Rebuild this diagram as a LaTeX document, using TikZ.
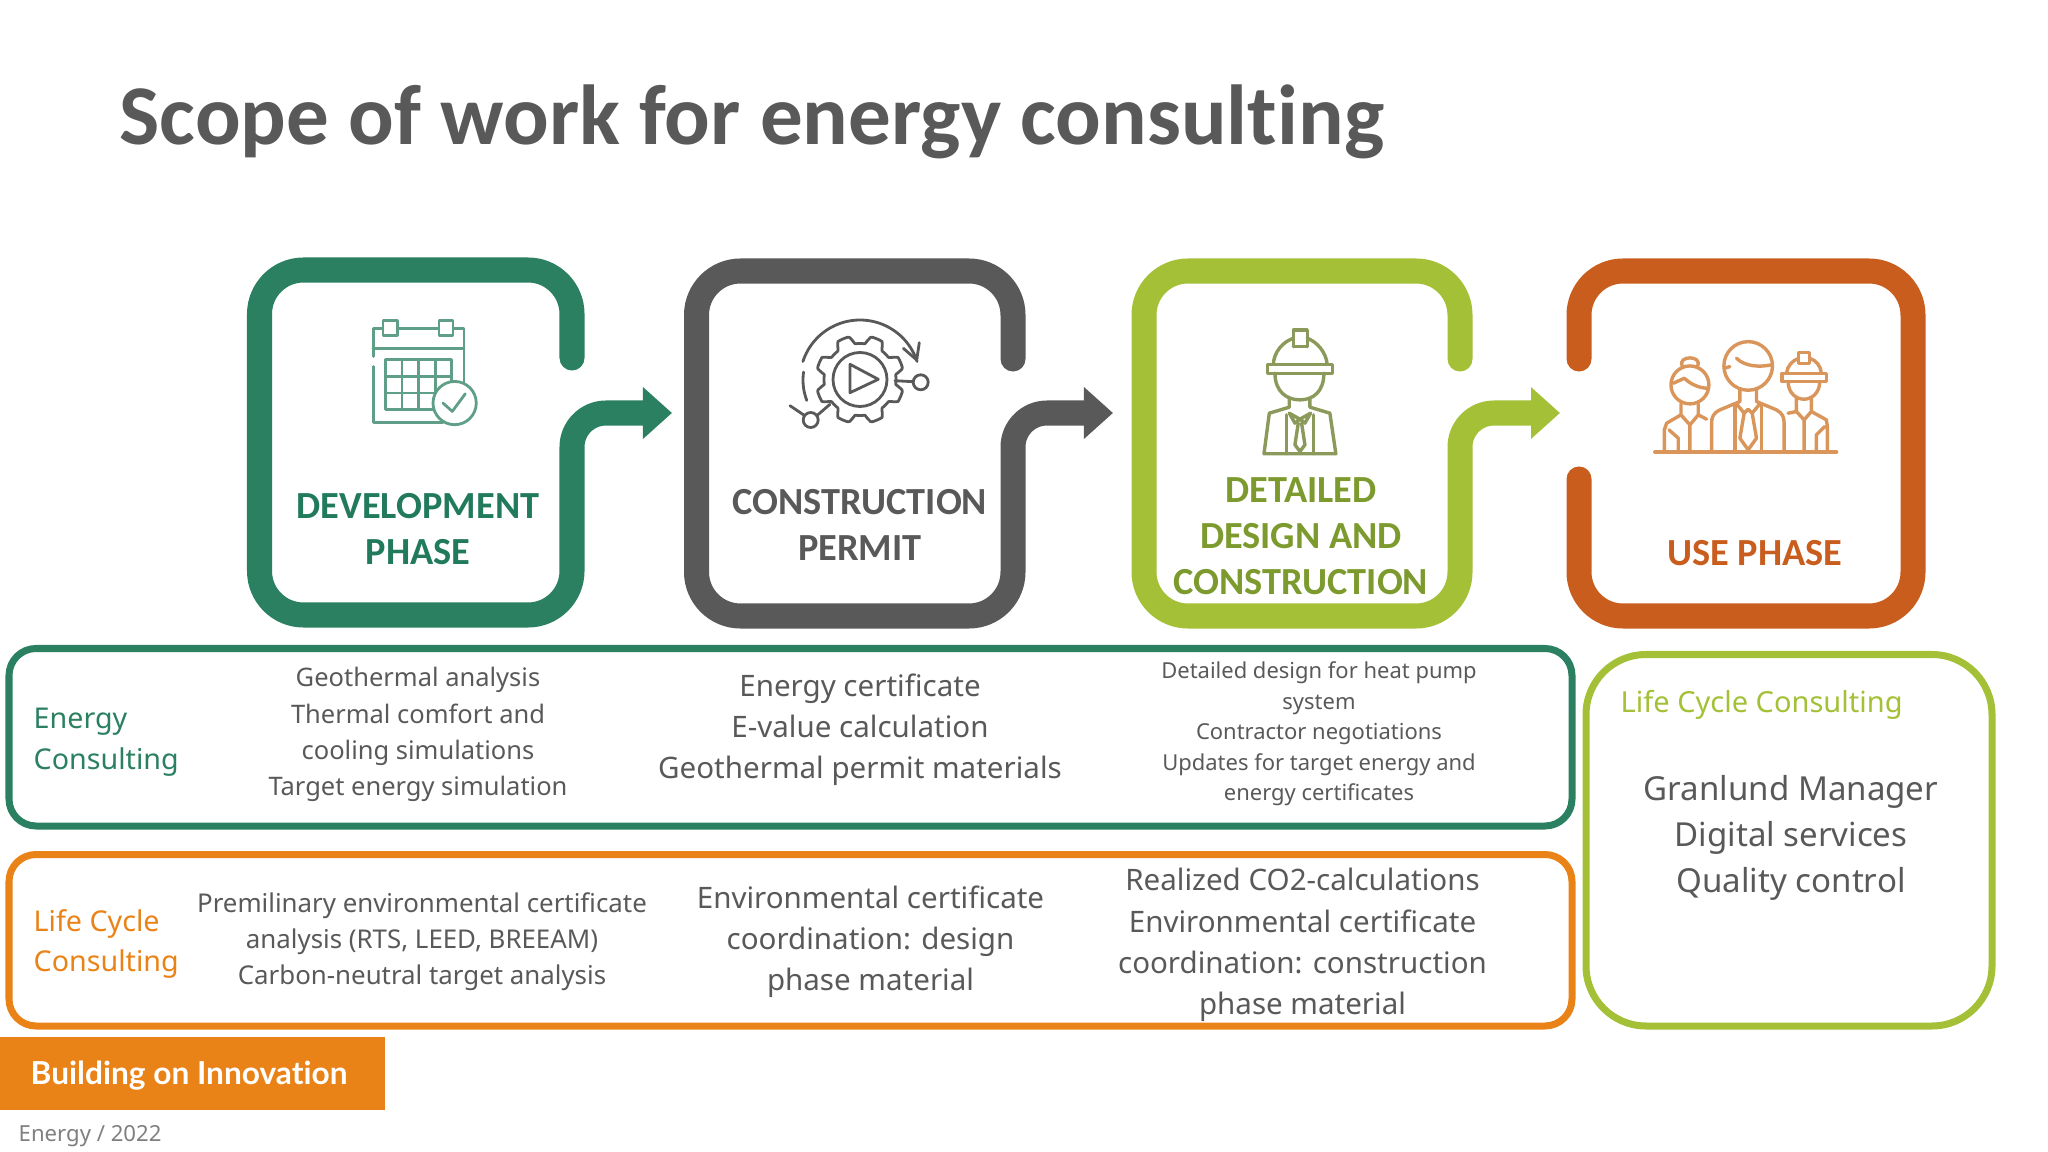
\documentclass[tikz,border=0pt]{standalone}
\usepackage{fontspec}
\setmainfont{Noto Sans}
\newfontfamily\headfont[Ligatures=NoCommon]{Carlito}
\newfontfamily\sloganfont[Ligatures=NoCommon]{Lato}
\usetikzlibrary{arrows.meta}
\definecolor{devgreen}{HTML}{2A8060}
\definecolor{devtext}{HTML}{217A5B}
\definecolor{devicon}{HTML}{5F9E87}
\definecolor{permitgray}{HTML}{595959}
\definecolor{limegreen}{HTML}{A3C037}
\definecolor{limetext}{HTML}{7C9A2D}
\definecolor{limeicon}{HTML}{8B9A5B}
\definecolor{rustred}{HTML}{C85D1E}
\definecolor{rusticon}{HTML}{D9955A}
\definecolor{roworange}{HTML}{EA8317}
\definecolor{foottext}{HTML}{7F7F7F}
\tikzset{
phaseline/.style={line width=0.25cm,rounded corners=0.44cm},
bendcorner/.style={rounded corners=0.34cm},
phasetip/.style={-{Triangle[length=0.29cm,width=0.5cm]}},
phaselabel/.style={font=\headfont\bfseries\fontsize{10.9}{13.1}\selectfont,align=center,inner sep=0pt},
rowbox/.style={line width=0.07cm,rounded corners=0.27cm},
rowtext/.style={text=permitgray,align=center,inner sep=0pt},
rowlabel/.style={align=left,inner sep=0pt,font=\fontsize{8.15}{11.6}\selectfont},
iconline/.style={line width=0.028cm},
iconunits/.style={x=0.00333cm,y=-0.00333cm}
}
\begin{document}
\begin{tikzpicture}[x=0.01cm,y=-0.01cm,line join=round,line cap=round,declare function={gearrad(\t)=40+4*max(min(2.2*cos(8*\t+180),1),-1);}]
\useasboundingbox (0,0) rectangle (2048,1152);
\node (title) [anchor=base west,inner sep=0pt,text=permitgray,font=\headfont\bfseries\fontsize{24.2}{28}\selectfont] at (119,145) {Scope of work for energy consulting};
\draw[phaseline,phasetip,devgreen] (572,358)--(572,270)--(259.5,270)--(259.5,615)--(572,615)[bendcorner]--(572,413)--(672,413);
\draw[phaseline,phasetip,permitgray] (1013,359)--(1013,271)--(696.5,271)--(696.5,616)--(1013,616)[bendcorner]--(1013,413)--(1113,413);
\draw[phaseline,phasetip,limegreen] (1460,359)--(1460,271)--(1144,271)--(1144,616)--(1460,616)[bendcorner]--(1460,413)--(1560,413);
\draw[phaseline,rustred] (1579,359)--(1579,271)--(1913,271)--(1913,616)--(1579,616)--(1579,479);
\node (devlabel) [phaselabel,text=devtext] at (418,529) {DEVELOPMENT\\PHASE};
\node (permitlabel) [phaselabel,text=permitgray] at (860,524.5) {CONSTRUCTION\\PERMIT};
\node (designlabel) [phaselabel,text=limetext] at (1301,536.5) {DETAILED\\DESIGN AND\\CONSTRUCTION};
\node (uselabel) [phaselabel,text=rustred] at (1755,553) {USE PHASE};
\begin{scope}[shift={(230,240)},iconunits,iconline,devicon]
\draw (430,350)--(430,265)--(703,265)--(703,430) (430,380)--(430,548)--(640,548) (430,325)--(703,325);
\draw[fill=white] (460,243) rectangle (503,288) (628,243) rectangle (670,288);
\draw (468,360) rectangle (665,510) (517,360)--(517,510) (567,360)--(567,510) (617,360)--(617,510) (468,410)--(665,410) (468,460)--(665,460);
\draw[fill=white] (675,490) circle[radius=65];
\draw (640,490)--(668,515)--(707,462);
\end{scope}
\begin{scope}[iconline,permitgray]
\draw plot[domain=0:360,samples=181] ({860+gearrad(\x)*cos(\x)},{379.5+gearrad(\x)*sin(\x)})--cycle;
\draw (860,379.5) circle[radius=27];
\draw (850,364.3)--(878.3,379.3)--(850,392.7)--cycle;
\draw plot[domain=198:342,samples=50,smooth] ({860+60*cos(\x)},{380+60*sin(\x)});
\draw plot[domain=159:188,samples=12,smooth] ({860+57*cos(\x)},{380+57*sin(\x)});
\draw (903.3,348.3)--(916.7,360)--(919.3,342.7);
\draw (920.7,382.3) circle[radius=7.5] (895,380.7)--(913,381.7);
\draw (810.7,420) circle[radius=7.5] (790,405.7)--(803.8,415) (817,415.5)--(830,404.3);
\end{scope}
\begin{scope}[shift={(1250,320)},iconunits,iconline,limeicon,line width=0.034cm]
\draw (130,55)--(130,30)--(172,30)--(172,55) (130,80)--(130,55) (172,80)--(172,55) (130,80)--(172,80);
\draw (70,133) .. controls (72,95) and (100,65) .. (130,55) (172,55) .. controls (200,65) and (228,95) .. (232,133);
\draw (52,133) rectangle (248,160);
\draw (75,160) .. controls (75,215) and (110,240) .. (150,240) .. controls (190,240) and (222,215) .. (222,160);
\draw (118,235)--(118,262)--(58,280)--(42,402)--(258,402)--(240,280)--(180,262)--(180,235);
\draw (110,285)--(110,402) (190,285)--(190,402);
\draw (118,280)--(135,310)--(150,298)--(165,310)--(182,280) (118,280)--(150,298)--(182,280);
\draw (145,310)--(135,375)--(150,395)--(165,375)--(155,310);
\end{scope}
\begin{scope}[shift={(1645,330)},iconunits,iconline,rusticon,line width=0.034cm]
\draw[line width=0.04cm] (30,367)--(575,367);
\draw (310,108) circle[radius=73];
\draw (275,85) .. controls (300,110) and (345,112) .. (378,105) (238,115)--(255,110);
\draw (285,180)--(285,215)--(225,240) .. controls (205,250) and (200,262) .. (200,280)--(200,365);
\draw (335,180)--(335,215)--(395,240) .. controls (413,250) and (418,262) .. (418,280)--(418,365);
\draw (270,225)--(270,365) (350,225)--(350,365);
\draw (275,222)--(298,250)--(310,238)--(322,250)--(345,222) (298,250)--(285,325)--(310,360)--(335,325)--(322,250);
\draw (135,165) circle[radius=57];
\draw (112,110) .. controls (95,75) and (175,75) .. (158,110);
\draw (85,160)--(118,145) .. controls (140,165) and (165,175) .. (190,175);
\draw (108,222)--(108,255)--(65,280)--(58,300)--(58,365) (160,222)--(160,255)--(185,268) (108,255)--(135,285)--(160,255) (135,285)--(135,365) (100,365)--(100,325)--(72,300);
\draw (462,85)--(462,67)--(495,67)--(495,100)--(462,100)--(462,85);
\draw (425,130) .. controls (428,108) and (442,92) .. (462,85) (495,85) .. controls (515,92) and (528,108) .. (530,130);
\draw (412,130) rectangle (545,155);
\draw (430,155) .. controls (430,190) and (455,208) .. (478,208) .. controls (500,208) and (525,190) .. (525,155);
\draw (455,205)--(455,245)--(430,250) (455,245)--(478,270)--(500,245)--(545,270)--(548,290)--(548,365) (500,205)--(500,245) (478,270)--(478,365) (515,365)--(515,315)--(540,290);
\end{scope}
\draw[rowbox,devgreen] (9,648.5) rectangle (1572,826);
\draw[rowbox,roworange] (9,854.5) rectangle (1572,1026);
\draw[rowbox,limegreen,rounded corners=0.6cm] (1586,654.5) rectangle (1992,1026);
\node (energylabel) [rowlabel,text=devgreen,anchor=west] at (33,742.5) {Energy\\Consulting};
\node (lifelabel) [rowlabel,text=roworange,anchor=west] at (33,944) {Life Cycle\\Consulting};
\node (energyone) [rowtext,font=\fontsize{7.25}{10.3}\selectfont] at (418,734.5) {Geothermal analysis\\Thermal comfort and\\cooling simulations\\Target energy simulation};
\node (energytwo) [rowtext,font=\fontsize{8.4}{11.6}\selectfont] at (860,729.5) {Energy certificate\\E-value calculation\\Geothermal permit materials};
\node (energythree) [rowtext,font=\fontsize{6.25}{8.7}\selectfont] at (1319,734) {Detailed design for heat pump\\system\\Contractor negotiations\\Updates for target energy and\\energy certificates};
\node (lifeone) [rowtext,font=\fontsize{7.35}{10.3}\selectfont] at (422,941.5) {Premilinary environmental certificate\\analysis (RTS, LEED, BREEAM)\\Carbon-neutral target analysis};
\node (lifetwo) [rowtext,font=\fontsize{8.4}{11.7}\selectfont] at (870.5,941.5) {Environmental certificate\\coordination: design\\phase material};
\node (lifethree) [rowtext,font=\fontsize{8.4}{11.7}\selectfont] at (1302.5,945) {Realized CO2-calculations\\Environmental certificate\\coordination: construction\\phase material};
\node (cyclelabel) [inner sep=0pt,anchor=west,text=limegreen,font=\fontsize{8.25}{11.6}\selectfont] at (1620,704.5) {Life Cycle Consulting};
\node (cycletext) [rowtext,font=\fontsize{9.4}{13.1}\selectfont] at (1791,838) {Granlund Manager\\Digital services\\Quality control};
\fill[roworange] (0,1037) rectangle (385,1110);
\node (slogan) [inner sep=0pt,anchor=west,text=white,font=\sloganfont\bfseries\fontsize{9}{10}\selectfont] at (30,1076) {Building on Innovation};
\node (footer) [inner sep=0pt,anchor=west,text=foottext,font=\fontsize{6.3}{8}\selectfont] at (18,1136) {Energy / 2022};
\end{tikzpicture}
\end{document}
